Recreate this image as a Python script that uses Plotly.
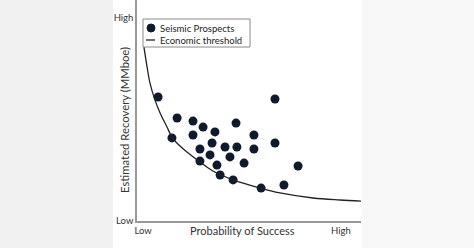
import plotly.graph_objects as go

# Seismic prospects (unitless 0-10 scores)
prob_success = [0.94, 1.79, 1.56, 2.50, 2.95, 2.50, 3.48, 4.42, 3.35, 2.81, 3.93, 4.46, 3.26,
                2.81, 4.15, 3.57, 4.78, 3.71, 4.29, 5.22, 5.22, 6.16, 6.16, 5.54, 6.56, 7.19]
recovery = [5.61, 4.66, 3.76, 4.52, 4.25, 3.89, 4.03, 4.43, 3.53, 3.26, 3.35, 3.35, 2.99,
            2.71, 2.90, 2.53, 2.62, 2.08, 1.86, 3.89, 3.26, 5.52, 3.53, 1.49, 1.63, 2.49]

# Economic threshold curve
thr_x = [0.31, 0.45, 0.58, 0.80, 1.03, 1.34, 1.56, 1.92, 2.23, 2.81, 3.39, 4.29, 5.49,
         6.38, 7.86, 9.06, 10.0]
thr_y = [7.87, 6.97, 6.24, 5.48, 4.89, 4.25, 3.80, 3.39, 3.12, 2.67, 2.26, 1.86, 1.49,
         1.27, 1.04, 0.95, 0.90]

x_tick_vals = [0.27, 9.1]
x_tick_text = ["Low", "High"]
y_tick_vals = [0, 9.2]
y_tick_text = ["Low", "High"]

series_names = ["Seismic Prospects", "Economic threshold"]

FONT = "Lato"
MARKER_COLOR = "#0f1b2d"
LINE_COLOR = "#222222"

# pixel -> paper helpers for legend placement (plot area: x 137..361, y 0..221)
def px(x):
    return (x - 137) / 224.0

def py(y):
    return (221 - y) / 221.0

fig = go.Figure()
fig.add_trace(go.Scatter(
    x=prob_success, y=recovery, mode="markers", name=series_names[0],
    marker=dict(size=9, color=MARKER_COLOR), showlegend=False,
))
fig.add_trace(go.Scatter(
    x=thr_x, y=thr_y, mode="lines", name=series_names[1],
    line=dict(color=LINE_COLOR, width=1.3, shape="spline"), showlegend=False,
))

shapes = [
    dict(type="rect", xref="paper", yref="paper", x0=1.004, x1=1.6, y0=-0.2, y1=1.0,
         fillcolor="#f8f8f8", line=dict(width=0), layer="below"),
    dict(type="rect", xref="paper", yref="paper", x0=-0.107, x1=1.004, y0=-0.125, y1=1.0,
         fillcolor="white", line=dict(width=0), layer="below"),
    # legend box
    dict(type="rect", xref="paper", yref="paper", x0=px(143), x1=px(250), y0=py(47), y1=py(19),
         fillcolor="white", line=dict(color="#8a8a8a", width=1)),
    # legend marker
    dict(type="circle", xref="paper", yref="paper", x0=px(147), x1=px(155), y0=py(32), y1=py(24),
         fillcolor=MARKER_COLOR, line=dict(color=MARKER_COLOR, width=1)),
    # legend line
    dict(type="line", xref="paper", yref="paper", x0=px(146), x1=px(155), y0=py(40), y1=py(40),
         line=dict(color=LINE_COLOR, width=1.3)),
]

annotations = [
    dict(text=series_names[0], xref="paper", yref="paper", x=px(158), y=py(28),
         xanchor="left", yanchor="middle", showarrow=False,
         font=dict(family=FONT, size=9.5, color="#222222")),
    dict(text=series_names[1], xref="paper", yref="paper", x=px(158), y=py(40.5),
         xanchor="left", yanchor="middle", showarrow=False,
         font=dict(family=FONT, size=9.5, color="#222222")),
    dict(text="Probability of Success", xref="paper", yref="paper", x=px(242), y=py(230),
         xanchor="center", yanchor="middle", showarrow=False,
         font=dict(family=FONT, size=11, color="#333333")),
    dict(text="Estimated Recovery (MMboe)", xref="paper", yref="paper", x=px(124), y=py(120),
         xanchor="center", yanchor="middle", textangle=-90, showarrow=False,
         font=dict(family=FONT, size=11.3, color="#333333")),
]

fig.update_layout(
    width=474, height=248,
    margin=dict(l=137, r=113, t=0, b=27),
    paper_bgcolor="#f1f1f1",
    plot_bgcolor="white",
    font=dict(family=FONT, size=9.5, color="#333333"),
    showlegend=False,
    shapes=shapes,
    annotations=annotations,
)
fig.update_xaxes(
    range=[0, 10], showgrid=False, zeroline=False,
    showline=True, linecolor="#999999", linewidth=1.5,
    tickmode="array", tickvals=x_tick_vals, ticktext=x_tick_text,
    ticks="", ticklen=0, tickfont=dict(size=9.5, color="#333333"),
)
fig.update_yaxes(
    range=[0, 10], showgrid=False, zeroline=False,
    showline=True, linecolor="#999999", linewidth=1.5,
    tickmode="array", tickvals=y_tick_vals, ticktext=y_tick_text,
    ticks="", ticklen=0, tickfont=dict(size=9.5, color="#333333"),
)

fig.write_html("out.html")
